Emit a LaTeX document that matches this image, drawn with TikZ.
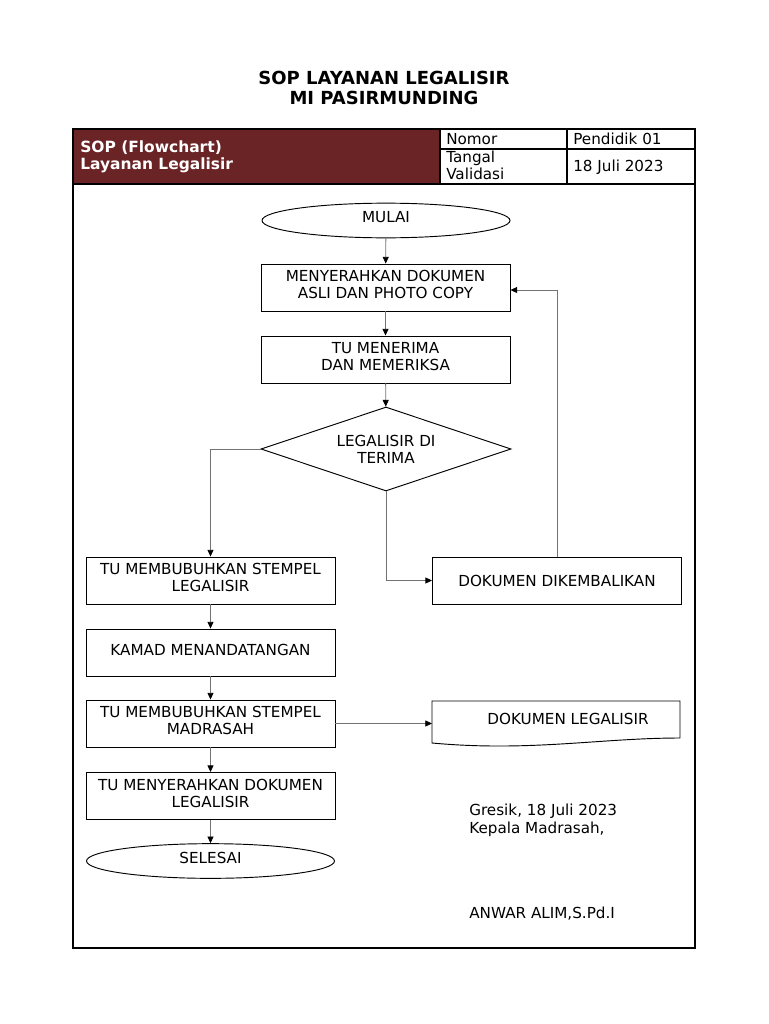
\documentclass[tikz,border=0pt]{standalone}
\usepackage{fontspec}
\setmainfont{DejaVu Sans}
\usetikzlibrary{shapes.geometric,arrows.meta}
\definecolor{hdr}{RGB}{106,36,38}
\begin{document}
\begin{tikzpicture}[x=0.75pt,y=-0.75pt,
  txt/.style={font=\fontsize{11.4}{12.75}\selectfont, inner sep=0pt},
  box/.style={txt, draw, line width=0.7pt, minimum width=186.75pt, minimum height=35.25pt, align=center, text depth=4.5pt},
  term/.style={txt, ellipse, draw, line width=0.7pt, minimum width=186pt, minimum height=26pt, text depth=5pt},
  dec/.style={txt, diamond, aspect=3, draw, line width=0.7pt, minimum width=187.5pt, minimum height=63pt, align=center},
  conn/.style={draw=black!55, line width=0.6pt, -{Triangle[length=5pt,width=4.5pt,color=black]}},
  frame/.style={draw, line width=0.8pt},
  hb/.style={font=\bfseries\fontsize{11.6}{13}\selectfont, text=white, inner sep=0pt},
]
\useasboundingbox (0,0) rectangle (768,1024);

% title
\node[font=\bfseries\fontsize{13.5}{15}\selectfont, align=center, inner sep=0pt] (title) at (384,88) {SOP LAYANAN LEGALISIR\\MI PASIRMUNDING};

% header table and frame
\fill[hdr] (73,129) rectangle (440,184);
\draw[frame] (73,129) rectangle (695,948);
\draw[frame] (440,129) -- (440,184);
\draw[frame] (567,129) -- (567,184);
\draw[frame] (440,149) -- (695,149);
\draw[frame] (73,184) -- (695,184);

\node[hb, anchor=base west] (h1) at (80,152.5) {SOP (Flowchart)};
\node[hb, anchor=base west] (h2) at (80,169.5) {Layanan Legalisir};
\node[txt, anchor=base west] (nomor) at (446,144) {Nomor};
\node[txt, anchor=base west] (tangal) at (446,162.5) {Tangal};
\node[txt, anchor=base west] (valid) at (446,179.5) {Validasi};
\node[txt, anchor=base west] (pend) at (573,144) {Pendidik 01};
\node[txt, anchor=base west] (tgl) at (573,171.5) {18 Juli 2023};

% flow nodes
\node[term] (mulai) at (386,220.5) {MULAI};
\node[box] (b1) at (385.5,287.5) {MENYERAHKAN DOKUMEN\\ASLI DAN PHOTO COPY};
\node[box] (b2) at (385.5,359.5) {TU MENERIMA\\DAN MEMERIKSA};
\node[dec] (d1) at (386,449) {LEGALISIR DI\\TERIMA};
\node[box] (b3) at (210.5,580.5) {TU MEMBUBUHKAN STEMPEL\\LEGALISIR};
\node[box, text depth=0pt] (dk) at (557,580.5) {DOKUMEN DIKEMBALIKAN};
\node[box] (b4) at (210.5,652.5) {KAMAD MENANDATANGAN};
\node[box] (b5) at (210.5,723.5) {TU MEMBUBUHKAN STEMPEL\\MADRASAH};
\node[box] (b6) at (210.5,796) {TU MENYERAHKAN DOKUMEN\\LEGALISIR};
\node[term] (selesai) at (210.5,861) {SELESAI};

% document shape
\draw[line width=0.7pt] (432,701) -- (680,701) -- (680,738)
  .. controls (600,738) and (530,752) .. (432,743) -- cycle;
\node[txt, minimum width=186pt, minimum height=28pt] (dl) at (568,719) {DOKUMEN LEGALISIR};
\coordinate (dlw) at (432,723.5);
\coordinate (b1in) at (510.5,290);

% connectors
\draw[conn] (mulai) -- (b1);
\draw[conn] (b1) -- (b2);
\draw[conn] (b2) -- (d1);
\draw[conn] (d1.west) -| (b3.north);
\draw[conn] (d1.south) |- (dk.west);
\draw[conn] (dk.north) |- (b1in);
\draw[conn] (b3) -- (b4);
\draw[conn] (b4) -- (b5);
\draw[conn] (b5.east) -- (dlw);
\draw[conn] (b5) -- (b6);
\draw[conn] (b6) -- (selesai);

% signature
\node[txt, anchor=base west] (s1) at (469,815.5) {Gresik, 18 Juli 2023};
\node[txt, anchor=base west] (s2) at (469,833.5) {Kepala Madrasah,};
\node[txt, anchor=base west] (s3) at (469,918.5) {ANWAR ALIM,S.Pd.I};
\end{tikzpicture}
\end{document}
